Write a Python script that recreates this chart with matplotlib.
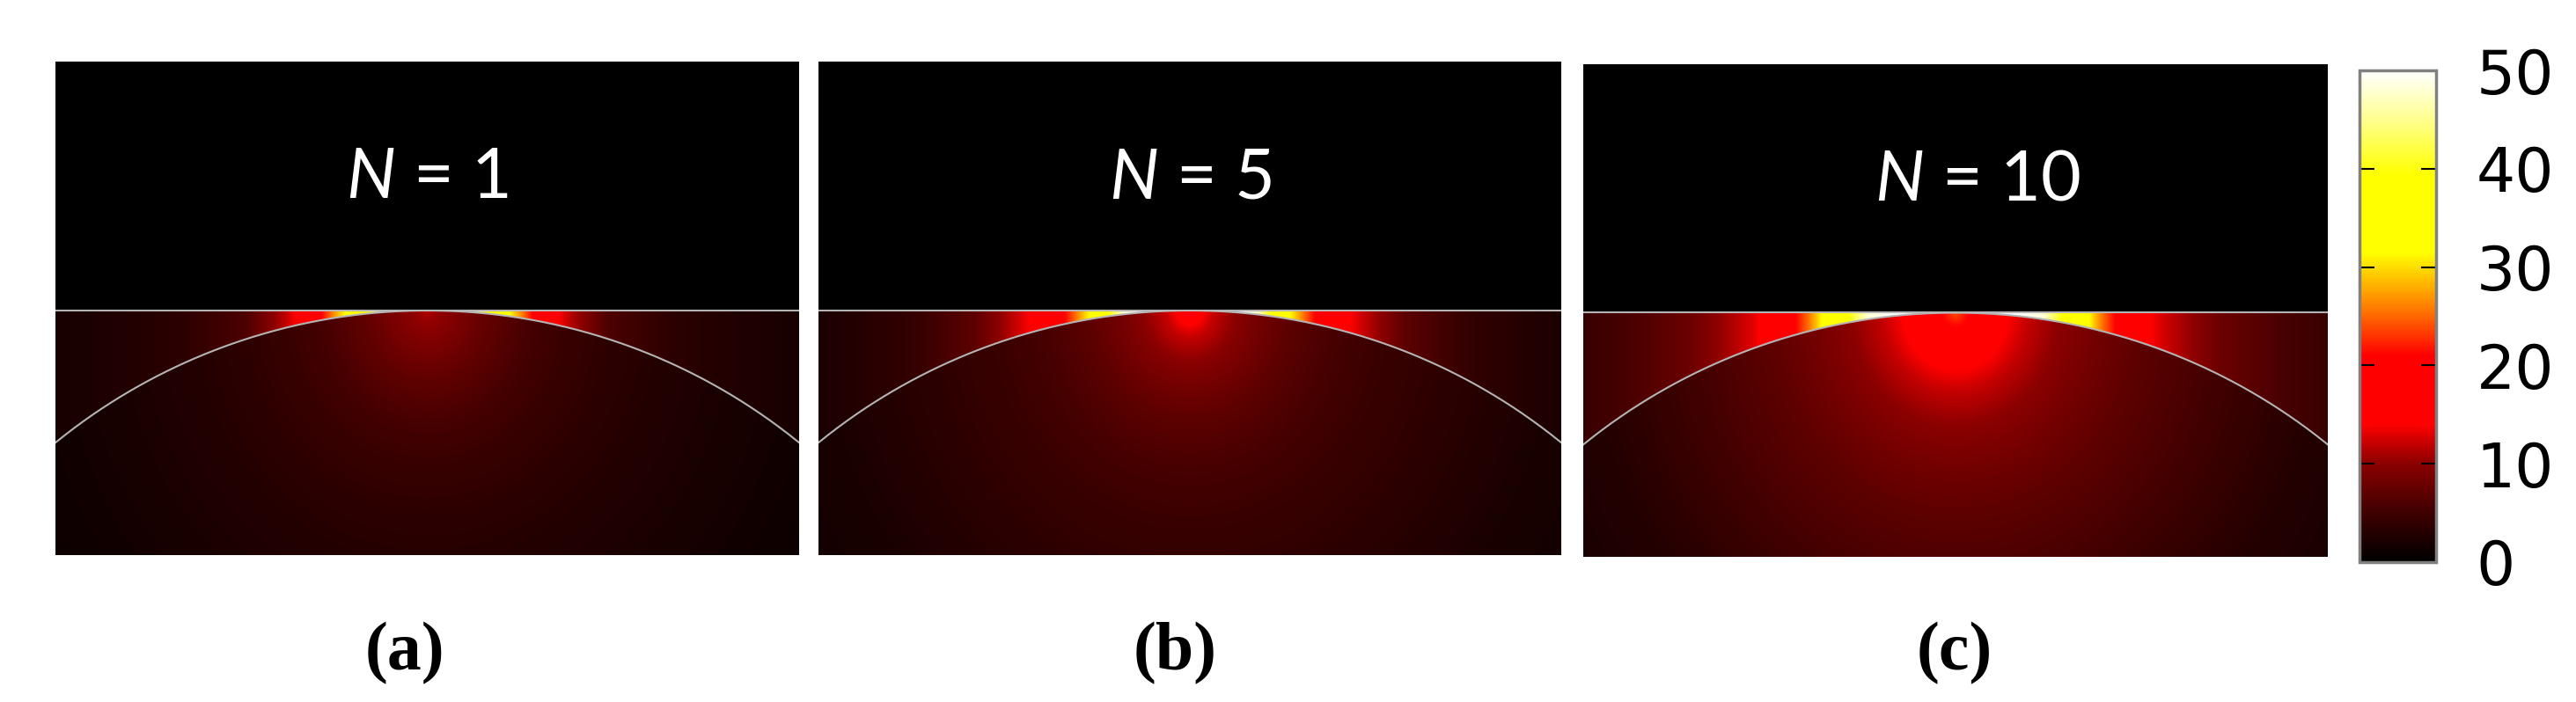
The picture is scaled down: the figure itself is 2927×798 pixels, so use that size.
import numpy as np
import matplotlib
matplotlib.use("Agg")
from matplotlib import pyplot as plt
from matplotlib.colors import LinearSegmentedColormap

# figure size in pixels (dpi 100)
W, H = 2927, 798

layer_counts = [1, 5, 10]
panel_labels = ["(a)", "(b)", "(c)"]

# field in the thin gap between plane and sphere, vs horizontal distance from contact (px)
gap_x = [
    [0, 45, 65, 85, 105, 125, 160, 205, 280, 360, 422],
    [0, 75, 92, 108, 128, 148, 190, 245, 320, 422],
    [0, 100, 120, 143, 165, 188, 230, 300, 360, 422],
]
gap_val = [
    [55, 50, 42, 35, 27, 19, 12, 6, 3.5, 2.5, 2],
    [55, 48, 40, 34, 26, 19, 13, 7, 4, 2.2],
    [55, 48, 40, 35, 26, 19, 13, 8, 6, 4.5],
]

# field inside the sphere vs distance from contact point (px)
glow_r = [0, 10, 30, 60, 90, 130, 180, 240, 300, 450, 550]
glow_val = [
    [11.5, 10.5, 9.5, 8, 6.8, 5.5, 4.4, 3.5, 2.8, 1.6, 1],
    [17, 15, 12, 9.8, 8.3, 6.8, 5.6, 4.6, 3.9, 2.2, 1.5],
    [24, 22, 19, 14.5, 12, 10, 8.3, 6.8, 5.8, 3, 2],
]

cbar_ticks = [0, 10, 20, 30, 40, 50]

# panel boxes in pixels: left, top, right, bottom
panel_boxes = [(63, 70, 908, 631), (930, 70, 1774, 631), (1799, 73, 2645, 633)]
label_x = [460, 1335, 2221]

HALF_W = 422
TOP, BOTTOM = -283, 278   # depth measured from the plane
R = 668                   # sphere radius, px

cmap = LinearSegmentedColormap.from_list("field", [
    (0.0, (0, 0, 0)),
    (0.1, (0.25, 0, 0)),
    (0.2, (0.55, 0, 0)),
    (0.28, (1, 0, 0)),
    (0.42, (1, 0, 0)),
    (0.52, (1, 0.5, 0)),
    (0.63, (1, 1, 0)),
    (0.79, (1, 1, 0)),
    (0.9, (1, 1, 0.55)),
    (1.0, (1, 1, 1)),
])

plt.rcParams['mathtext.fontset'] = 'custom'
plt.rcParams['mathtext.it'] = 'Lato:italic'
plt.rcParams['mathtext.rm'] = 'Lato'


def px_axes(fig, l, t, r, b):
    return fig.add_axes([l / W, 1 - b / H, (r - l) / W, (b - t) / H])


def make_field(i):
    x = np.linspace(-HALF_W, HALF_W, 845)
    d = np.linspace(TOP, BOTTOM, 561)
    X, D = np.meshgrid(x, d)
    arc = R - np.sqrt(R**2 - X**2)
    field = np.zeros_like(X)
    gap = (D >= 0) & (D < arc)
    field[gap] = np.interp(np.abs(X[gap]), gap_x[i], gap_val[i])
    inner = D >= arc
    r = np.sqrt((X[inner] * 1.1)**2 + D[inner]**2)
    field[inner] = np.interp(r, glow_r, glow_val[i])
    return field


fig = plt.figure(figsize=(W / 100, H / 100), dpi=100)

xs = np.linspace(-HALF_W, HALF_W, 400)
for i, box in enumerate(panel_boxes):
    ax = px_axes(fig, *box)
    im = ax.imshow(make_field(i), cmap=cmap, vmin=0, vmax=50,
                   extent=[-HALF_W, HALF_W, BOTTOM, TOP], aspect='auto',
                   interpolation='bilinear')
    ax.axhline(0, color='#b4b4b4', lw=1.5)
    ax.plot(xs, R - np.sqrt(R**2 - xs**2), color='#b4b4b4', lw=1.5)
    ax.set_xlim(-HALF_W, HALF_W)
    ax.set_ylim(BOTTOM, TOP)
    ax.axis('off')
    ax.text(-92, -150, r"$N$ = {}".format(layer_counts[i]), color='white',
            fontsize=57, family='Lato', ha='left', va='center')
    fig.text(label_x[i] / W, 1 - 743 / H, panel_labels[i], ha='center', va='center',
             fontsize=56, fontweight='bold', family='Liberation Serif')

cax = px_axes(fig, 2681, 80, 2768, 639)
cb = fig.colorbar(im, cax=cax, ticks=cbar_ticks)
cb.outline.set_edgecolor('#808080')
cb.outline.set_linewidth(2.5)
cax.tick_params(axis='y', length=0, labelsize=50, pad=33)
tick_len = 17 / 87
for v in cbar_ticks[1:-1]:
    cax.hlines(v, 0, tick_len, color='black', lw=1.5)
    cax.hlines(v, 1 - tick_len, 1, color='black', lw=1.5)

plt.savefig("out.png", dpi=100)
